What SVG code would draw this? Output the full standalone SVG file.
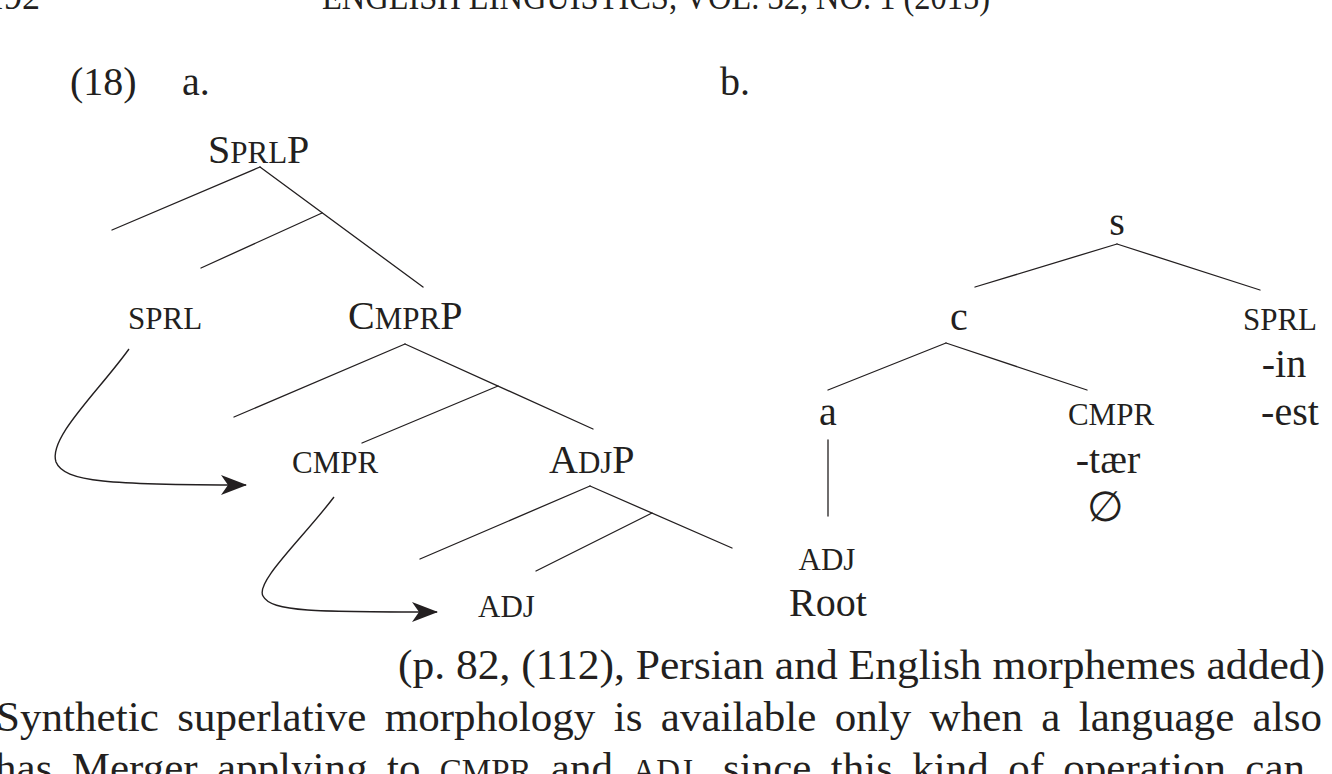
<svg xmlns="http://www.w3.org/2000/svg" width="1332" height="774" viewBox="0 0 1332 774">
  <style>
    text { font-family: 'Liberation Serif', 'DejaVu Serif', serif; fill: #231f20; font-size: 40px; }
    .sc { font-size: 31px; }
    .body { font-size: 43px; }
    .bsc { font-size: 33px; }
    .hdr { font-size: 36px; }
    .mid { text-anchor: middle; }
    .edge { stroke: #231f20; stroke-width: 1.3; fill: none; stroke-linecap: round; }
    .mv { stroke: #231f20; stroke-width: 1.4; fill: none; }
  </style>
  <defs>
    <marker id="stealth" markerUnits="userSpaceOnUse" markerWidth="28" markerHeight="24" refX="25" refY="12" orient="auto" viewBox="0 0 28 24">
      <path d="M0,2 L26,12 L0,22 L7,12 Z" fill="#231f20"/>
    </marker>
  </defs>
  <rect width="1332" height="774" fill="#ffffff"/>

  <g id="page-text">
    <text class="hdr" x="-14" y="9">192</text>
    <text class="hdr" x="322" y="9" textLength="668" lengthAdjust="spacingAndGlyphs">ENGLISH LINGUISTICS, VOL. 32, NO. 1 (2015)</text>
    <text x="70" y="95">(18)</text>
    <text x="182" y="95">a.</text>
    <text x="720" y="95">b.</text>
    <text class="body" x="398" y="679" textLength="927" lengthAdjust="spacingAndGlyphs">(p. 82, (112), Persian and English morphemes added)</text>
    <text class="body" x="-4" y="731" textLength="1326" lengthAdjust="spacing" word-spacing="7.5">Synthetic superlative morphology is available only when a language also</text>
    <text class="body" x="-5" y="782" textLength="1310" lengthAdjust="spacing" word-spacing="8.5">has Merger applying to <tspan class="bsc">CMPR</tspan> and <tspan class="bsc">ADJ</tspan>, since this kind of operation can</text>
  </g>

  <g id="connectors">
    <path class="edge" d="M260,167 L112,230"/>
    <path class="edge" d="M260,167 L423,287"/>
    <path class="edge" d="M322,213 L201,268"/>
    <path class="edge" d="M405,344 L234,417"/>
    <path class="edge" d="M405,344 L593,429"/>
    <path class="edge" d="M498,386 L362,443"/>
    <path class="edge" d="M590,486 L420,559"/>
    <path class="edge" d="M590,486 L732,548"/>
    <path class="edge" d="M652,513 L536,571"/>
    <path class="mv" d="M129,349 C98,392 48,438 56,462 C64,482 110,485 246,485" marker-end="url(#stealth)"/>
    <path class="mv" d="M334,497 C303,538 255,582 263,596 C271,612 316,612 437,612" marker-end="url(#stealth)"/>
    <path class="edge" d="M1117,244 L975,287"/>
    <path class="edge" d="M1117,244 L1260,290"/>
    <path class="edge" d="M946,343 L828,390"/>
    <path class="edge" d="M946,343 L1087,390"/>
    <path class="edge" d="M828,440 L828,516"/>
  </g>

  <g id="node-sprlp"><text x="208" y="163">S<tspan class="sc">PRL</tspan>P</text></g>
  <g id="node-sprl-a"><text class="sc" x="128" y="329">SPRL</text></g>
  <g id="node-cmprp"><text x="348" y="329">C<tspan class="sc">MPR</tspan>P</text></g>
  <g id="node-cmpr-a"><text class="sc" x="292" y="473">CMPR</text></g>
  <g id="node-adjp"><text x="549" y="473">A<tspan class="sc">DJ</tspan>P</text></g>
  <g id="node-adj-a"><text class="sc" x="478" y="617">ADJ</text></g>

  <g id="node-s"><text class="mid" x="1117" y="235">s</text></g>
  <g id="node-c"><text class="mid" x="959" y="330">c</text></g>
  <g id="node-a"><text class="mid" x="828" y="425">a</text></g>
  <g id="node-root">
    <text class="sc mid" x="827" y="570">ADJ</text>
    <text class="mid" x="828" y="616">Root</text>
  </g>
  <g id="node-cmpr-b">
    <text class="sc mid" x="1111" y="425">CMPR</text>
    <text class="mid" x="1108" y="473">-tær</text>
    <text class="mid" x="1105" y="521" style="font-family: 'DejaVu Serif', 'Liberation Serif', serif; font-size: 42px;">∅</text>
  </g>
  <g id="node-sprl-b">
    <text class="sc mid" x="1280" y="330">SPRL</text>
    <text class="mid" x="1284" y="377">-in</text>
    <text class="mid" x="1290" y="425">-est</text>
  </g>
</svg>
